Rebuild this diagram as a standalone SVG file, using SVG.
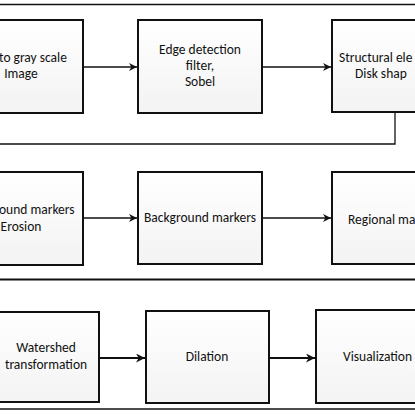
<svg xmlns="http://www.w3.org/2000/svg" width="415" height="415" viewBox="0 0 415 415">
<defs>
<linearGradient id="g" x1="0" y1="0" x2="0" y2="1">
<stop offset="0" stop-color="#ffffff"/>
<stop offset="1" stop-color="#f3f3f3"/>
</linearGradient>
<marker id="ah" viewBox="0 0 10 10" refX="10" refY="5" markerWidth="8" markerHeight="8" markerUnits="userSpaceOnUse" orient="auto">
<path d="M0,0 L10,5 L0,10 L3,5 Z" fill="#111"/>
</marker>
<marker id="ah2" viewBox="0 0 10 10" refX="10" refY="5" markerWidth="9" markerHeight="9" markerUnits="userSpaceOnUse" orient="auto">
<path d="M0,0 L10,5 L0,10 L3,5 Z" fill="#111"/>
</marker>
</defs>
<style>
.box{fill:url(#g);stroke:#111;stroke-width:2}
.t{font-family:Carlito,Lato,"Open Sans",sans-serif;font-size:13.5px;fill:#111}
.m{text-anchor:middle}
.c{fill:none;stroke:#111;stroke-width:1.3}
.c2{fill:none;stroke:#111;stroke-width:2}
.sep{fill:none;stroke:#111}
</style>
<rect width="415" height="415" fill="#fff"/>
<g id="separators">
<line class="sep" x1="0" y1="4.5" x2="415" y2="4.5" stroke-width="1.3"/>
<line class="sep" x1="0" y1="279.5" x2="415" y2="279.5" stroke-width="2.2"/>
<line class="sep" x1="0" y1="409" x2="415" y2="409" stroke-width="1.5"/>
</g>
<g id="n1"><rect class="box" x="-42" y="20" width="125" height="93"/>
<text class="t" x="-1" y="62">to gray scale</text>
<text class="t m" x="21" y="78">Image</text></g>
<g id="n2"><rect class="box" x="138" y="20" width="124" height="93"/>
<text class="t m" x="200" y="54">Edge detection</text>
<text class="t m" x="200" y="70">filter,</text>
<text class="t m" x="200" y="86">Sobel</text></g>
<g id="n3"><rect class="box" x="332" y="20" width="124" height="92"/>
<text class="t" x="339" y="62">Structural ele</text>
<text class="t" x="355" y="78">Disk shap</text></g>
<g id="n4"><rect class="box" x="-42" y="172" width="125" height="93"/>
<text class="t" x="-1" y="214">ound markers</text>
<text class="t m" x="21" y="231">Erosion</text></g>
<g id="n5"><rect class="box" x="138" y="172" width="124" height="92"/>
<text class="t m" x="200" y="222">Background markers</text></g>
<g id="n6"><rect class="box" x="332" y="172" width="124" height="92"/>
<text class="t" x="348" y="224">Regional ma</text></g>
<g id="n7"><rect class="box" x="-25" y="312" width="124" height="90"/>
<text class="t m" x="46" y="352">Watershed</text>
<text class="t m" x="46" y="369">transformation</text></g>
<g id="n8"><rect class="box" x="146" y="311" width="123" height="92"/>
<text class="t m" x="207" y="361">Dilation</text></g>
<g id="n9"><rect class="box" x="316" y="310" width="124" height="93"/>
<text class="t" x="343" y="361">Visualization</text></g>
<g id="connectors">
<line class="c" x1="83" y1="67" x2="137" y2="67" marker-end="url(#ah)"/>
<line class="c" x1="262" y1="67" x2="331" y2="67" marker-end="url(#ah)"/>
<polyline class="c" points="395,113 395,144 0,144"/>
<line class="c" x1="83" y1="218" x2="137" y2="218" marker-end="url(#ah)"/>
<line class="c" x1="262" y1="218" x2="331" y2="218" marker-end="url(#ah)"/>
<line class="c2" x1="99" y1="358" x2="145" y2="358" marker-end="url(#ah2)"/>
<line class="c2" x1="269" y1="358" x2="315" y2="358" marker-end="url(#ah2)"/>
</g>
</svg>
